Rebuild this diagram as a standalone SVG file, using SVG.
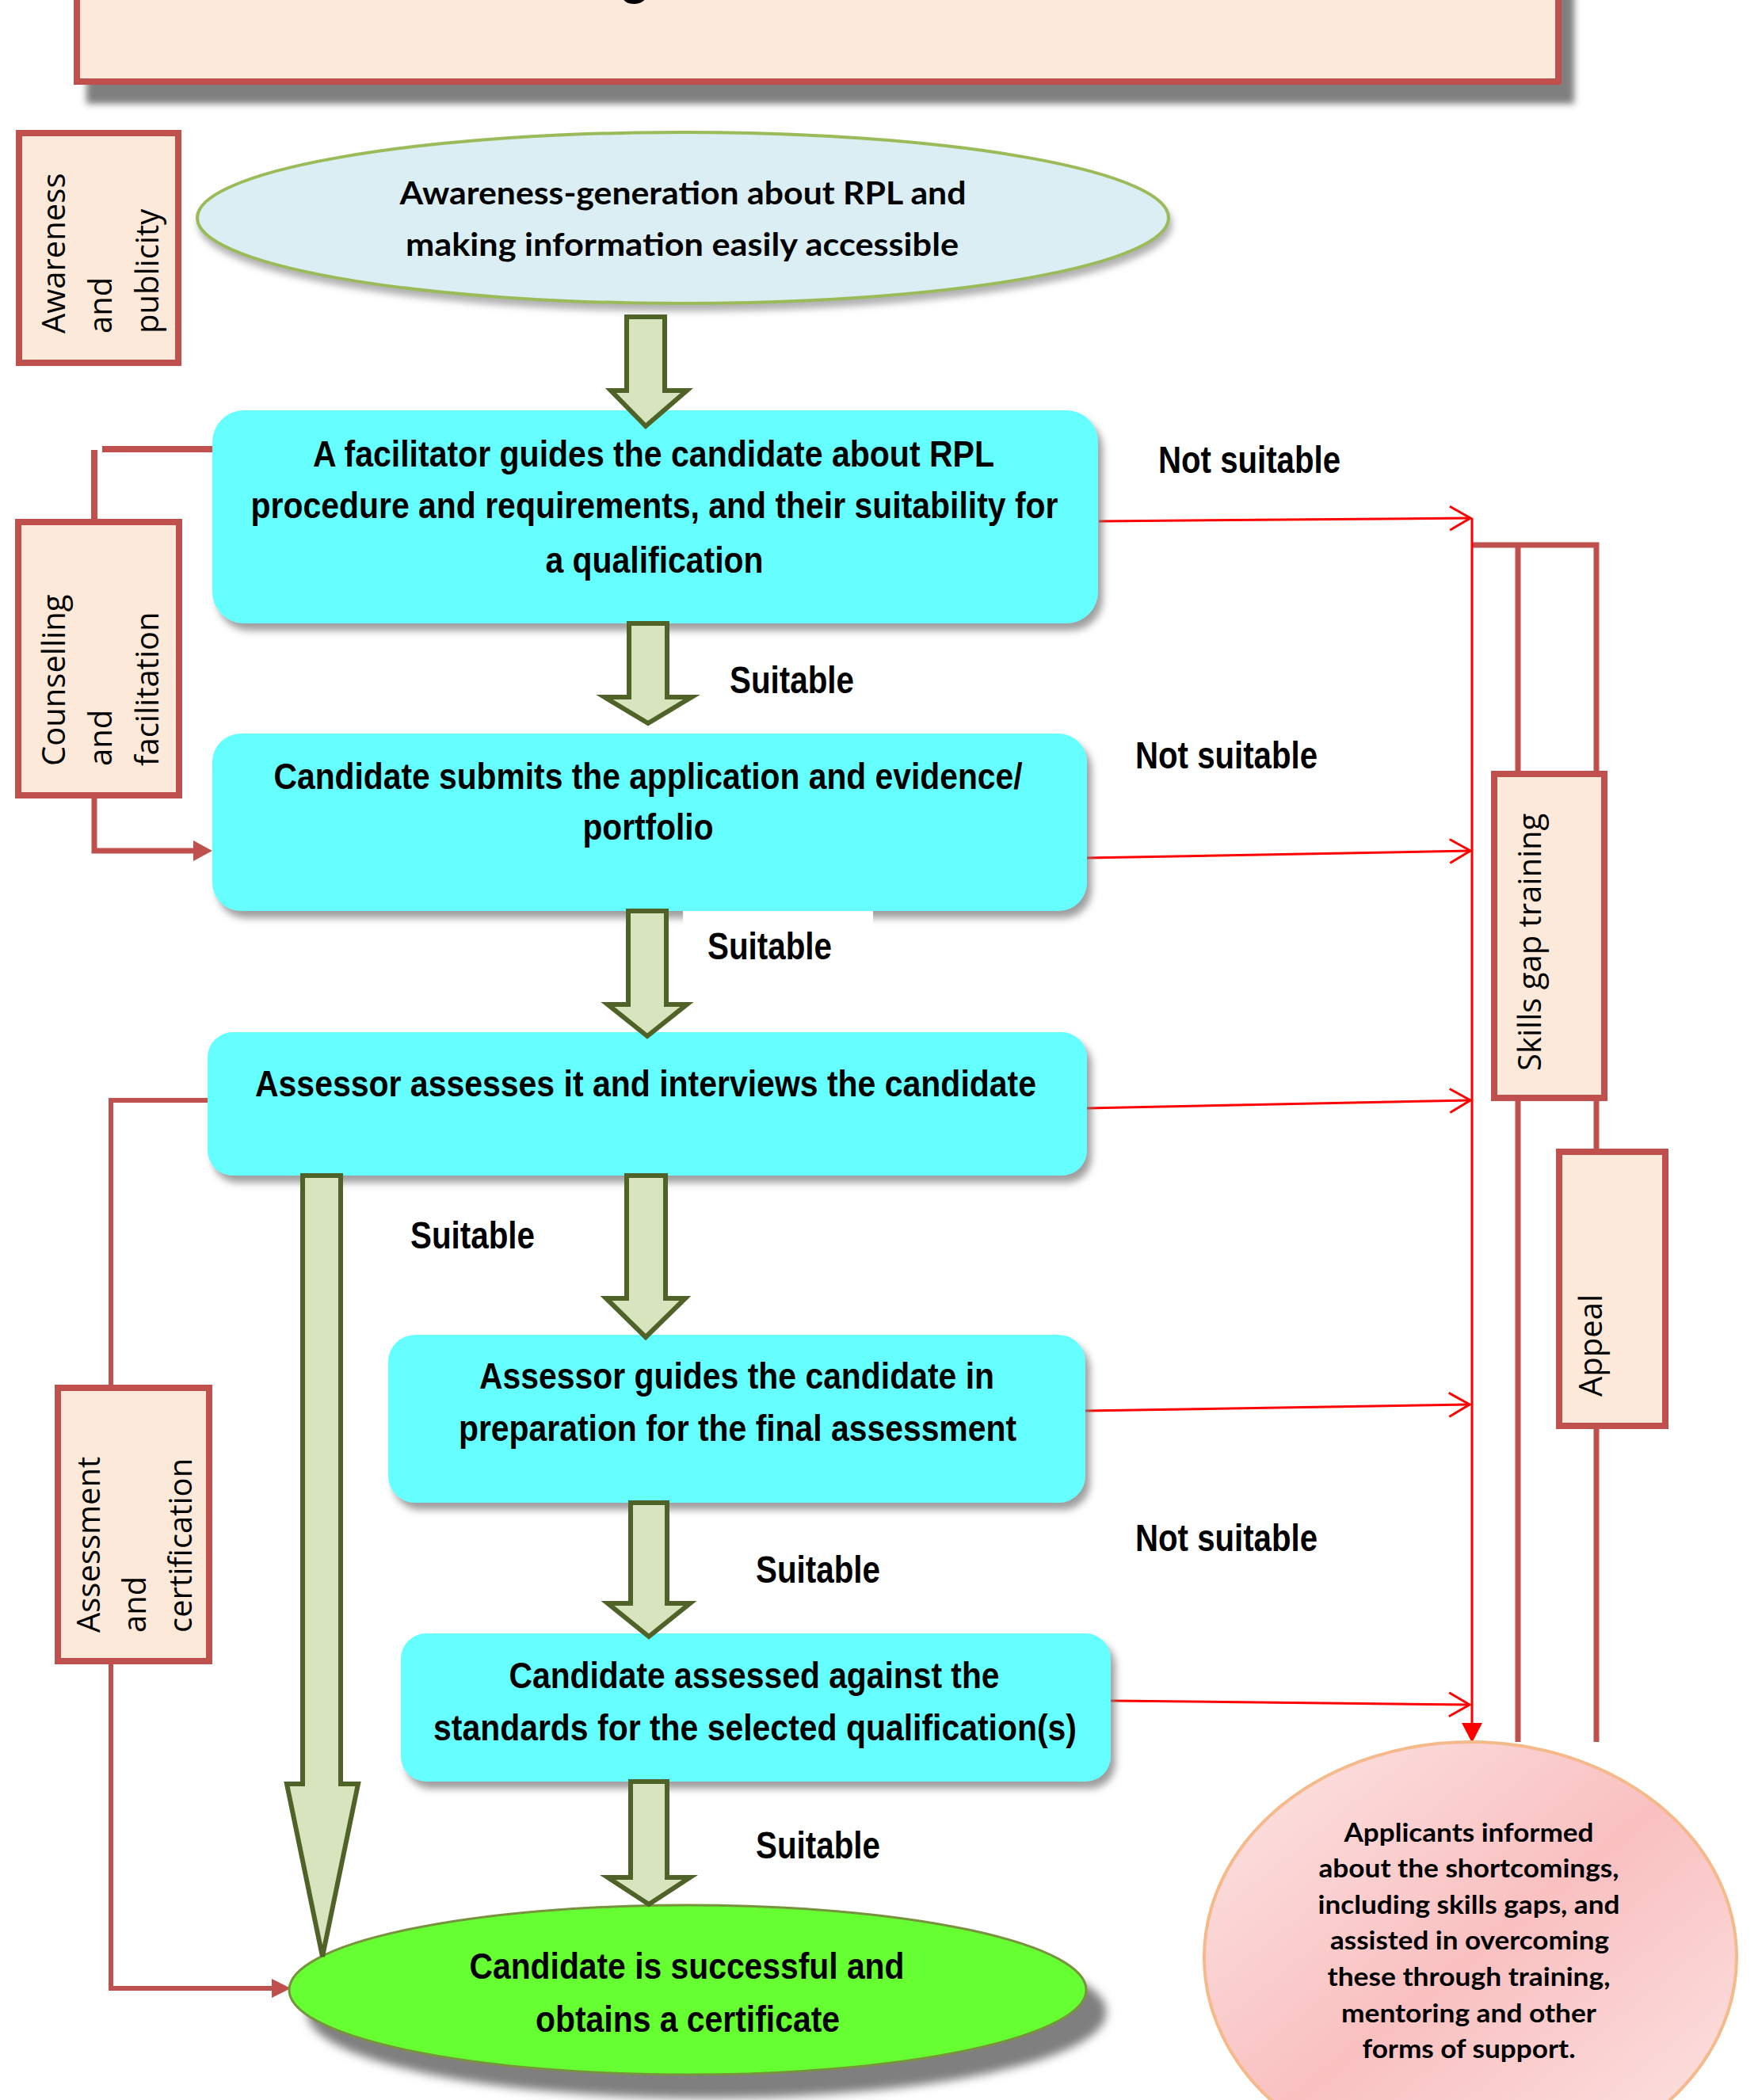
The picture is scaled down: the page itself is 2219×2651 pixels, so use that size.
<svg xmlns="http://www.w3.org/2000/svg" width="2219" height="2651" viewBox="0 0 2219 2651">
<defs>
<style>
.side{fill:#fde9d9;stroke:#c0504d;stroke-width:8}
.box{fill:#66ffff}
.bt{font-family:"Liberation Sans Narrow","Liberation Sans",Arial,sans-serif;font-weight:bold;font-size:46px;fill:#000}
.lbl{font-family:"Liberation Sans Narrow","Liberation Sans",Arial,sans-serif;font-weight:bold;font-size:48px;fill:#000}
.cal{font-family:Lato,"Open Sans",sans-serif;font-weight:bold;fill:#000}
.rot{font-family:"Open Sans","DejaVu Sans",sans-serif;font-size:40px;fill:#000}
.garrow{fill:#d7e4bd;stroke:#4f6228;stroke-width:6;stroke-linejoin:miter}
.thick{fill:none;stroke:#c0504d;stroke-width:7}
.thin{fill:none;stroke:#ff0000;stroke-width:3}
</style>
<filter id="sh" x="-10%" y="-20%" width="130%" height="150%">
<feDropShadow dx="6" dy="9" stdDeviation="5" flood-color="#7f7f7f" flood-opacity="0.75"/>
</filter>
<filter id="shT" x="-10%" y="-20%" width="130%" height="160%">
<feDropShadow dx="16" dy="24" stdDeviation="4" flood-color="#7f7f7f" flood-opacity="1"/>
</filter>
<filter id="shG" x="-10%" y="-20%" width="130%" height="160%">
<feDropShadow dx="24" dy="28" stdDeviation="6" flood-color="#7f7f7f" flood-opacity="1"/>
</filter>
<filter id="shE" x="-10%" y="-20%" width="130%" height="150%">
<feDropShadow dx="3" dy="8" stdDeviation="4" flood-color="#9f9f9f" flood-opacity="0.8"/>
</filter>
<linearGradient id="pink" x1="0" y1="0" x2="1" y2="1">
<stop offset="0" stop-color="#fde6e6"/>
<stop offset="0.5" stop-color="#f9c0c0"/>
<stop offset="1" stop-color="#fde6e6"/>
</linearGradient>
<marker id="open" markerUnits="userSpaceOnUse" markerWidth="32" markerHeight="34" viewBox="0 0 32 34" refX="29" refY="17" orient="auto">
<path d="M3,2 L29,17 L3,32" fill="none" stroke="#ff0000" stroke-width="3"/>
</marker>
</defs>
<rect width="2219" height="2651" fill="#ffffff"/>

<g id="title">
<rect x="97" y="-40" width="1870" height="143" fill="#fde9d9" stroke="#c0504d" stroke-width="8" filter="url(#shT)"/>
<text x="801" y="-6" class="cal" font-size="60" text-anchor="middle">g</text>
</g>

<g id="side-awareness">
<rect class="side" x="24" y="168" width="201" height="290"/>
<text class="rot" transform="translate(82,421) rotate(-90)">Awareness</text>
<text class="rot" transform="translate(141,421) rotate(-90)">and</text>
<text class="rot" transform="translate(200,421) rotate(-90)">publicity</text>
</g>

<g id="side-counselling">
<rect class="side" x="23" y="659" width="203" height="345"/>
<text class="rot" transform="translate(82,967) rotate(-90)">Counselling</text>
<text class="rot" transform="translate(141,967) rotate(-90)">and</text>
<text class="rot" transform="translate(200,967) rotate(-90)">facilitation</text>
</g>

<g id="side-assessment">
<rect class="side" x="73" y="1752" width="191" height="345"/>
<text class="rot" transform="translate(126,2061) rotate(-90)">Assessment</text>
<text class="rot" transform="translate(184,2061) rotate(-90)">and</text>
<text class="rot" transform="translate(242,2061) rotate(-90)">certification</text>
</g>

<g id="connectors">
<line class="thick" style="stroke-width:8" x1="119" y1="568" x2="119" y2="659"/>
<line class="thick" style="stroke-width:8" x1="129" y1="567" x2="268" y2="567"/>
<polyline class="thick" points="119,1004 119,1074 246,1074"/>
<polygon points="244,1061 268,1074 244,1087" fill="#c0504d"/>
<polyline class="thick" style="stroke-width:6" points="262,1389 140,1389 140,1752"/>
<polyline class="thick" style="stroke-width:6" points="140,2097 140,2510 345,2510"/>
<polygon points="343,2498 367,2510 343,2522" fill="#c0504d"/>
<polyline class="thick" points="1858,688 2015,688 2015,977"/>
<line class="thick" x1="1916" y1="688" x2="1916" y2="977"/>
<line class="thick" x1="1916" y1="1386" x2="1916" y2="2199"/>
<line class="thick" x1="2015" y1="1386" x2="2015" y2="1454"/>
<line class="thick" x1="2015" y1="1800" x2="2015" y2="2199"/>
<line class="thin" x1="1387" y1="658" x2="1856" y2="654" marker-end="url(#open)"/>
<line class="thin" x1="1372" y1="1083" x2="1856" y2="1074" marker-end="url(#open)"/>
<line class="thin" x1="1372" y1="1399" x2="1856" y2="1389" marker-end="url(#open)"/>
<line class="thin" x1="1370" y1="1781" x2="1855" y2="1773" marker-end="url(#open)"/>
<line class="thin" x1="1402" y1="2147" x2="1855" y2="2152" marker-end="url(#open)"/>
<line class="thin" x1="1858" y1="654" x2="1858" y2="2178"/>
<polygon points="1845,2175 1871,2175 1858,2200" fill="#ff0000"/>
</g>

<g id="side-skills">
<rect class="side" x="1886" y="977" width="139" height="409"/>
<text class="rot" transform="translate(1945,1352) rotate(-90)">Skills gap training</text>
</g>

<g id="side-appeal">
<rect class="side" x="1968" y="1454" width="134" height="346"/>
<text class="rot" transform="translate(2022,1763) rotate(-90)">Appeal</text>
</g>

<g id="n-awareness">
<ellipse cx="862" cy="275" rx="613" ry="108" fill="#dbeef4" stroke="#9bbb59" stroke-width="4" filter="url(#shE)"/>
<text class="cal" font-size="40" x="862" y="258" text-anchor="middle" textLength="715" lengthAdjust="spacingAndGlyphs">Awareness-generation about RPL and</text>
<text class="cal" font-size="40" x="861" y="323" text-anchor="middle" textLength="698" lengthAdjust="spacingAndGlyphs">making information easily accessible</text>
</g>

<g id="n-facilitator">
<rect class="box" x="268" y="518" width="1118" height="269" rx="40" filter="url(#sh)"/>
<text class="bt" x="825" y="589" text-anchor="middle" textLength="860" lengthAdjust="spacingAndGlyphs">A facilitator guides the candidate about RPL</text>
<text class="bt" x="826" y="654" text-anchor="middle" textLength="1019" lengthAdjust="spacingAndGlyphs">procedure and requirements, and their suitability for</text>
<text class="bt" x="826" y="723" text-anchor="middle" textLength="275" lengthAdjust="spacingAndGlyphs">a qualification</text>
</g>

<g id="n-submit">
<rect class="box" x="268" y="926" width="1104" height="224" rx="36" filter="url(#sh)"/>
<text class="bt" x="818" y="996" text-anchor="middle" textLength="945" lengthAdjust="spacingAndGlyphs">Candidate submits the application and evidence/</text>
<text class="bt" x="818" y="1060" text-anchor="middle" textLength="165" lengthAdjust="spacingAndGlyphs">portfolio</text>
</g>

<g id="n-assess">
<rect class="box" x="262" y="1303" width="1110" height="181" rx="32" filter="url(#sh)"/>
<text class="bt" x="815" y="1384" text-anchor="middle" textLength="986" lengthAdjust="spacingAndGlyphs">Assessor assesses it and interviews the candidate</text>
</g>

<g id="n-guide">
<rect class="box" x="490" y="1685" width="880" height="212" rx="34" filter="url(#sh)"/>
<text class="bt" x="930" y="1753" text-anchor="middle" textLength="650" lengthAdjust="spacingAndGlyphs">Assessor guides the candidate in</text>
<text class="bt" x="931" y="1819" text-anchor="middle" textLength="704" lengthAdjust="spacingAndGlyphs">preparation for the final assessment</text>
</g>

<g id="n-standards">
<rect class="box" x="506" y="2062" width="896" height="187" rx="32" filter="url(#sh)"/>
<text class="bt" x="952" y="2131" text-anchor="middle" textLength="619" lengthAdjust="spacingAndGlyphs">Candidate assessed against the</text>
<text class="bt" x="953" y="2197" text-anchor="middle" textLength="812" lengthAdjust="spacingAndGlyphs">standards for the selected qualification(s)</text>
</g>

<g id="n-success">
<ellipse cx="868" cy="2512" rx="503" ry="107" fill="#66ff33" stroke="#77933c" stroke-width="3" filter="url(#shG)"/>
<text class="bt" x="867" y="2498" text-anchor="middle" textLength="549" lengthAdjust="spacingAndGlyphs">Candidate is successful and</text>
<text class="bt" x="868" y="2565" text-anchor="middle" textLength="384" lengthAdjust="spacingAndGlyphs">obtains a certificate</text>
</g>

<g id="n-applicants">
<ellipse cx="1856" cy="2471" rx="336" ry="272" fill="url(#pink)" stroke="#f5b98a" stroke-width="4"/>
<text class="cal" font-size="33" x="1854" y="2325" text-anchor="middle" textLength="315" lengthAdjust="spacingAndGlyphs">Applicants informed</text>
<text class="cal" font-size="33" x="1854" y="2370" text-anchor="middle" textLength="379" lengthAdjust="spacingAndGlyphs">about the shortcomings,</text>
<text class="cal" font-size="33" x="1854" y="2416" text-anchor="middle" textLength="381" lengthAdjust="spacingAndGlyphs">including skills gaps, and</text>
<text class="cal" font-size="33" x="1855" y="2461" text-anchor="middle" textLength="352" lengthAdjust="spacingAndGlyphs">assisted in overcoming</text>
<text class="cal" font-size="33" x="1854" y="2507" text-anchor="middle" textLength="357" lengthAdjust="spacingAndGlyphs">these through training,</text>
<text class="cal" font-size="33" x="1854" y="2553" text-anchor="middle" textLength="322" lengthAdjust="spacingAndGlyphs">mentoring and other</text>
<text class="cal" font-size="33" x="1854" y="2598" text-anchor="middle" textLength="269" lengthAdjust="spacingAndGlyphs">forms of support.</text>
</g>

<g id="flow-arrows">
<rect x="862" y="1150" width="240" height="80" fill="#ffffff"/>
<path class="garrow" d="M791,400 L839,400 L839,493 L867,493 L815,538 L771,493 L791,493 Z"/>
<path class="garrow" d="M794,787 L842,787 L842,880 L873,880 L818,913 L763,880 L794,880 Z"/>
<path class="garrow" d="M793,1150 L841,1150 L841,1268 L867,1268 L817,1308 L767,1268 L793,1268 Z"/>
<path class="garrow" d="M791,1484 L840,1484 L840,1639 L865,1639 L815,1688 L765,1639 L791,1639 Z"/>
<path class="garrow" d="M796,1897 L842,1897 L842,2024 L871,2024 L819,2066 L767,2024 L796,2024 Z"/>
<path class="garrow" d="M796,2249 L842,2249 L842,2370 L871,2370 L819,2404 L767,2370 L796,2370 Z"/>
<path class="garrow" d="M382,1484 L430,1484 L430,2252 L452,2252 L407,2470 L362,2252 L382,2252 Z"/>
</g>

<g id="labels">
<text class="lbl" x="1462" y="597" textLength="230" lengthAdjust="spacingAndGlyphs">Not suitable</text>
<text class="lbl" x="1433" y="970" textLength="230" lengthAdjust="spacingAndGlyphs">Not suitable</text>
<text class="lbl" x="1433" y="1958" textLength="230" lengthAdjust="spacingAndGlyphs">Not suitable</text>
<text class="lbl" x="921" y="875" textLength="157" lengthAdjust="spacingAndGlyphs">Suitable</text>
<text class="lbl" x="893" y="1211" textLength="157" lengthAdjust="spacingAndGlyphs">Suitable</text>
<text class="lbl" x="518" y="1576" textLength="157" lengthAdjust="spacingAndGlyphs">Suitable</text>
<text class="lbl" x="954" y="1998" textLength="157" lengthAdjust="spacingAndGlyphs">Suitable</text>
<text class="lbl" x="954" y="2346" textLength="157" lengthAdjust="spacingAndGlyphs">Suitable</text>
</g>
</svg>
